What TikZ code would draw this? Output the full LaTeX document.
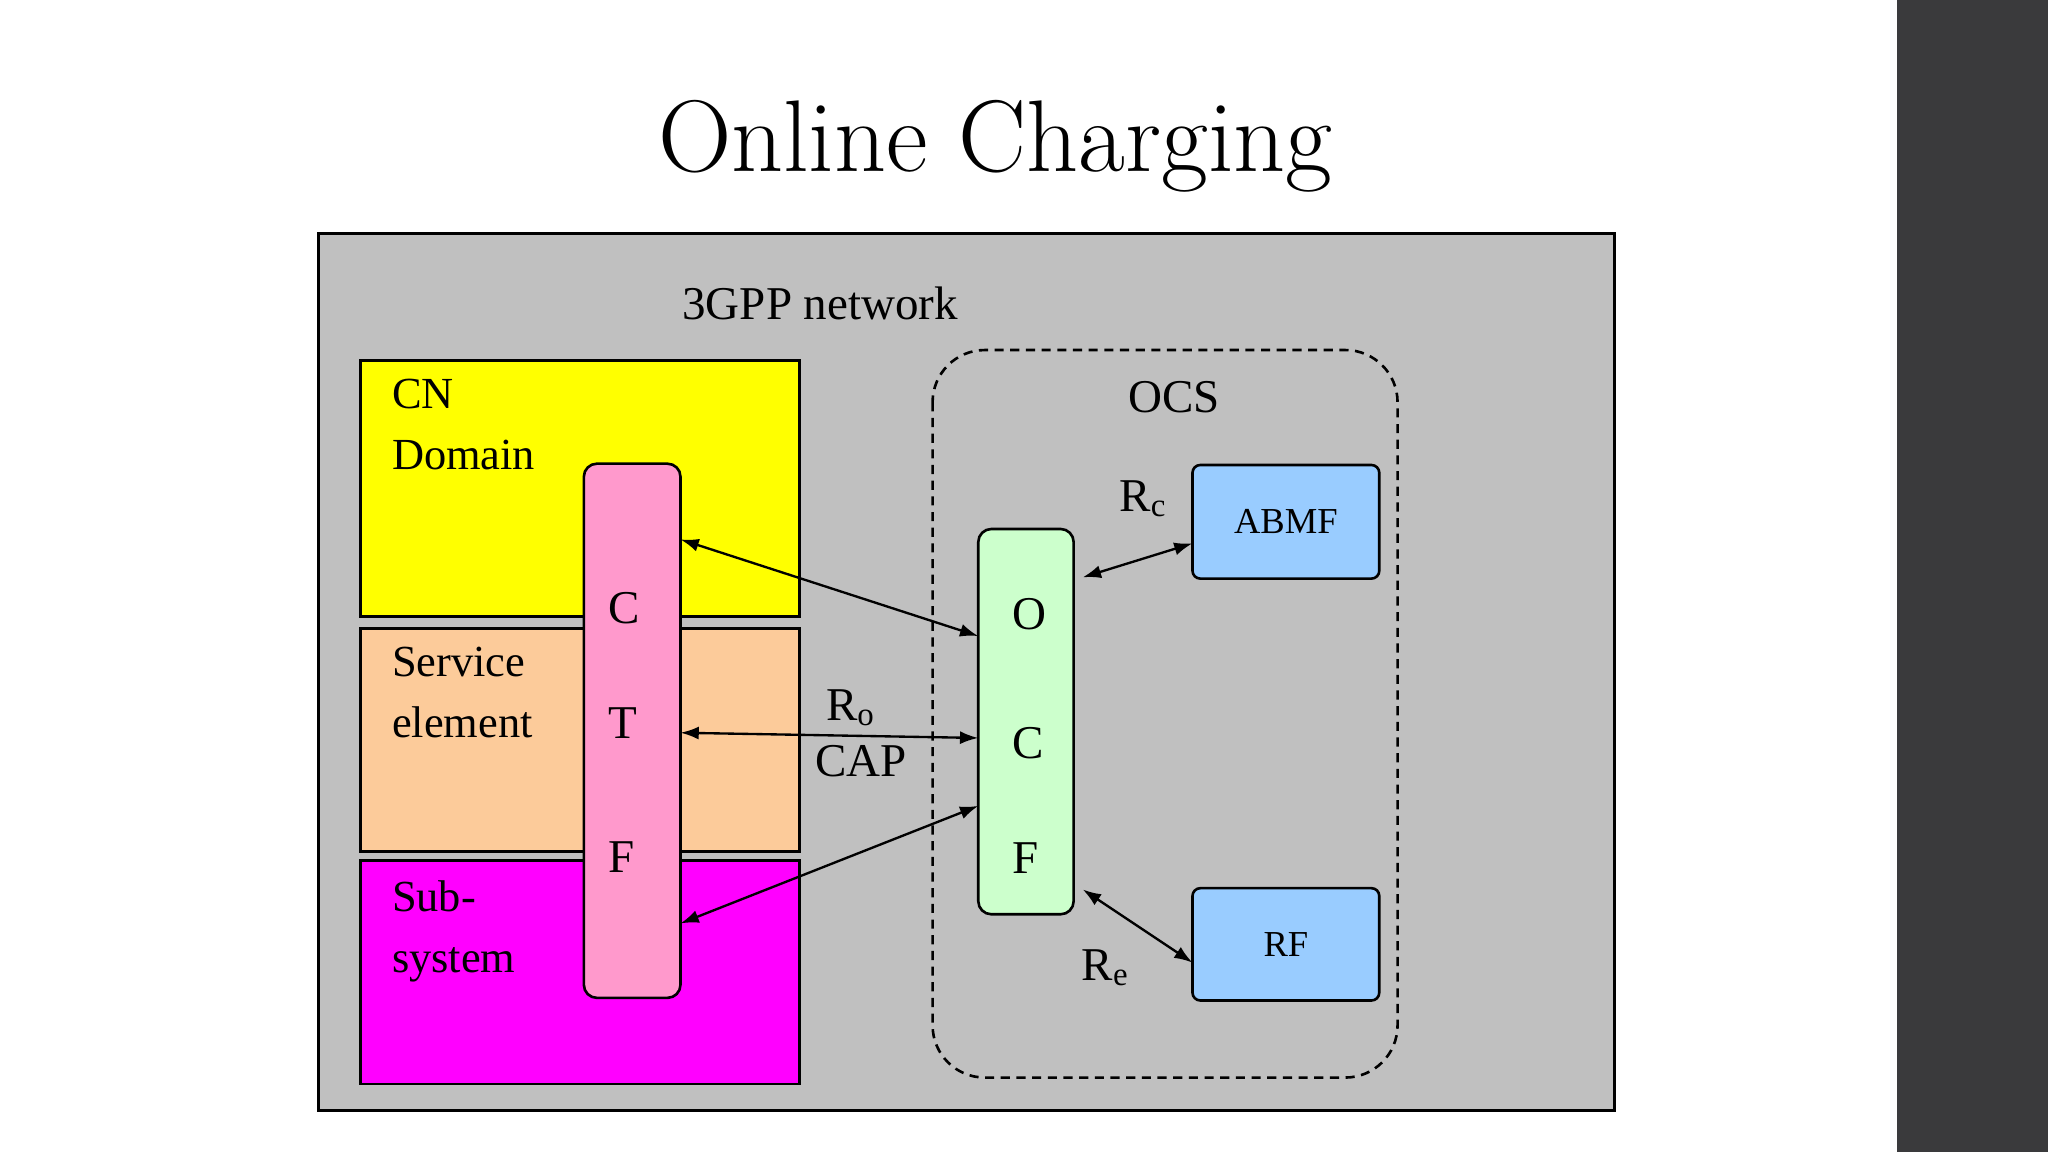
\documentclass[tikz,border=0pt]{standalone}
\usepackage{fontspec}
\usetikzlibrary{arrows.meta}
\setmainfont{Liberation Serif}
\newfontfamily\titlefont{Latin Modern Roman}
\begin{document}
\begin{tikzpicture}[x=1pt,y=-1pt,
  box/.style={draw=black,line width=2pt},
  lbl/.style={font=\fontsize{34}{47}\selectfont,align=left,anchor=north west,inner sep=0},
  let/.style={font=\fontsize{36}{38}\selectfont,inner sep=0},
  arr/.style={{Latex[length=14pt,width=10pt]}-{Latex[length=14pt,width=10pt]},line width=1.8pt},
  blu/.style={box,fill=bl,rounded corners=6pt}]
\definecolor{gr}{HTML}{C0C0C0}
\definecolor{yl}{RGB}{255,255,0}
\definecolor{mg}{RGB}{255,0,255}
\definecolor{pe}{RGB}{252,203,154}
\definecolor{pk}{RGB}{255,153,204}
\definecolor{gn}{RGB}{204,255,204}
\definecolor{bl}{RGB}{153,204,255}
\definecolor{dk}{RGB}{58,58,60}
\useasboundingbox (0,0) rectangle (1568,882);
\fill[white] (0,0) rectangle (1568,882);
\fill[dk] (1452,0) rectangle (1568,882);
\node[font=\titlefont\fontsize{78}{84}\selectfont] (title) at (762,112) {Online Charging};
\draw[box,fill=gr] (244,179) rectangle (1236,850);
\node[font=\fontsize{36}{40}\selectfont] (net) at (628,232) {3GPP network};
\draw[box,fill=yl] (276,276) rectangle (612,472);
\node[lbl] at (300,290) {CN\\Domain};
\draw[box,fill=pe] (276,481) rectangle (612,652);
\node[lbl] at (300,495) {Service\\element};
\draw[box,fill=mg] (276,659) rectangle (612,830);
\node[lbl] at (300,674) {Sub-\\system};
\draw[box,fill=pk,rounded corners=10pt] (447,355) rectangle (521,764);
\node[let] at (478,466) {C};
\node[let] at (477,554) {T};
\node[let] at (476,656) {F};
\draw[line width=2pt,dash pattern=on 7pt off 5pt,rounded corners=40pt] (714,268) rectangle (1070,825);
\node[font=\fontsize{36}{40}\selectfont] (ocs) at (899,304) {OCS};
\draw[box,fill=gn,rounded corners=10pt] (749,405) rectangle (822,700);
\node[let] at (788,470) {O};
\node[let] at (787,569) {C};
\node[let] at (785,657) {F};
\node[blu,minimum width=143pt,minimum height=87pt,font=\fontsize{28}{30}\selectfont] (abmf) at (984.5,399.5) {ABMF};
\node[blu,minimum width=143pt,minimum height=86pt,font=\fontsize{28}{30}\selectfont] (rf) at (984.5,723) {RF};
\coordinate (c1) at (521,413); \coordinate (o1) at (749,487);
\coordinate (c2) at (521,561); \coordinate (o2) at (749,565);
\coordinate (c3) at (521,707); \coordinate (o3) at (749,617);
\coordinate (o4) at (829,442); \coordinate (a4) at (913,416);
\coordinate (o5) at (829,681); \coordinate (a5) at (913,737);
\draw[arr] (c1) -- (o1);
\draw[arr] (c2) -- (o2);
\draw[arr] (c3) -- (o3);
\draw[arr] (o4) -- (a4);
\draw[arr] (o5) -- (a5);
\node[font=\fontsize{36}{40}\selectfont] at (875,382) {R\textsubscript{c}};
\node[font=\fontsize{36}{40}\selectfont] at (651,542) {R\textsubscript{o}};
\node[font=\fontsize{36}{40}\selectfont] at (659,583) {CAP};
\node[font=\fontsize{36}{40}\selectfont] at (846,741) {R\textsubscript{e}};
\end{tikzpicture}
\end{document}
